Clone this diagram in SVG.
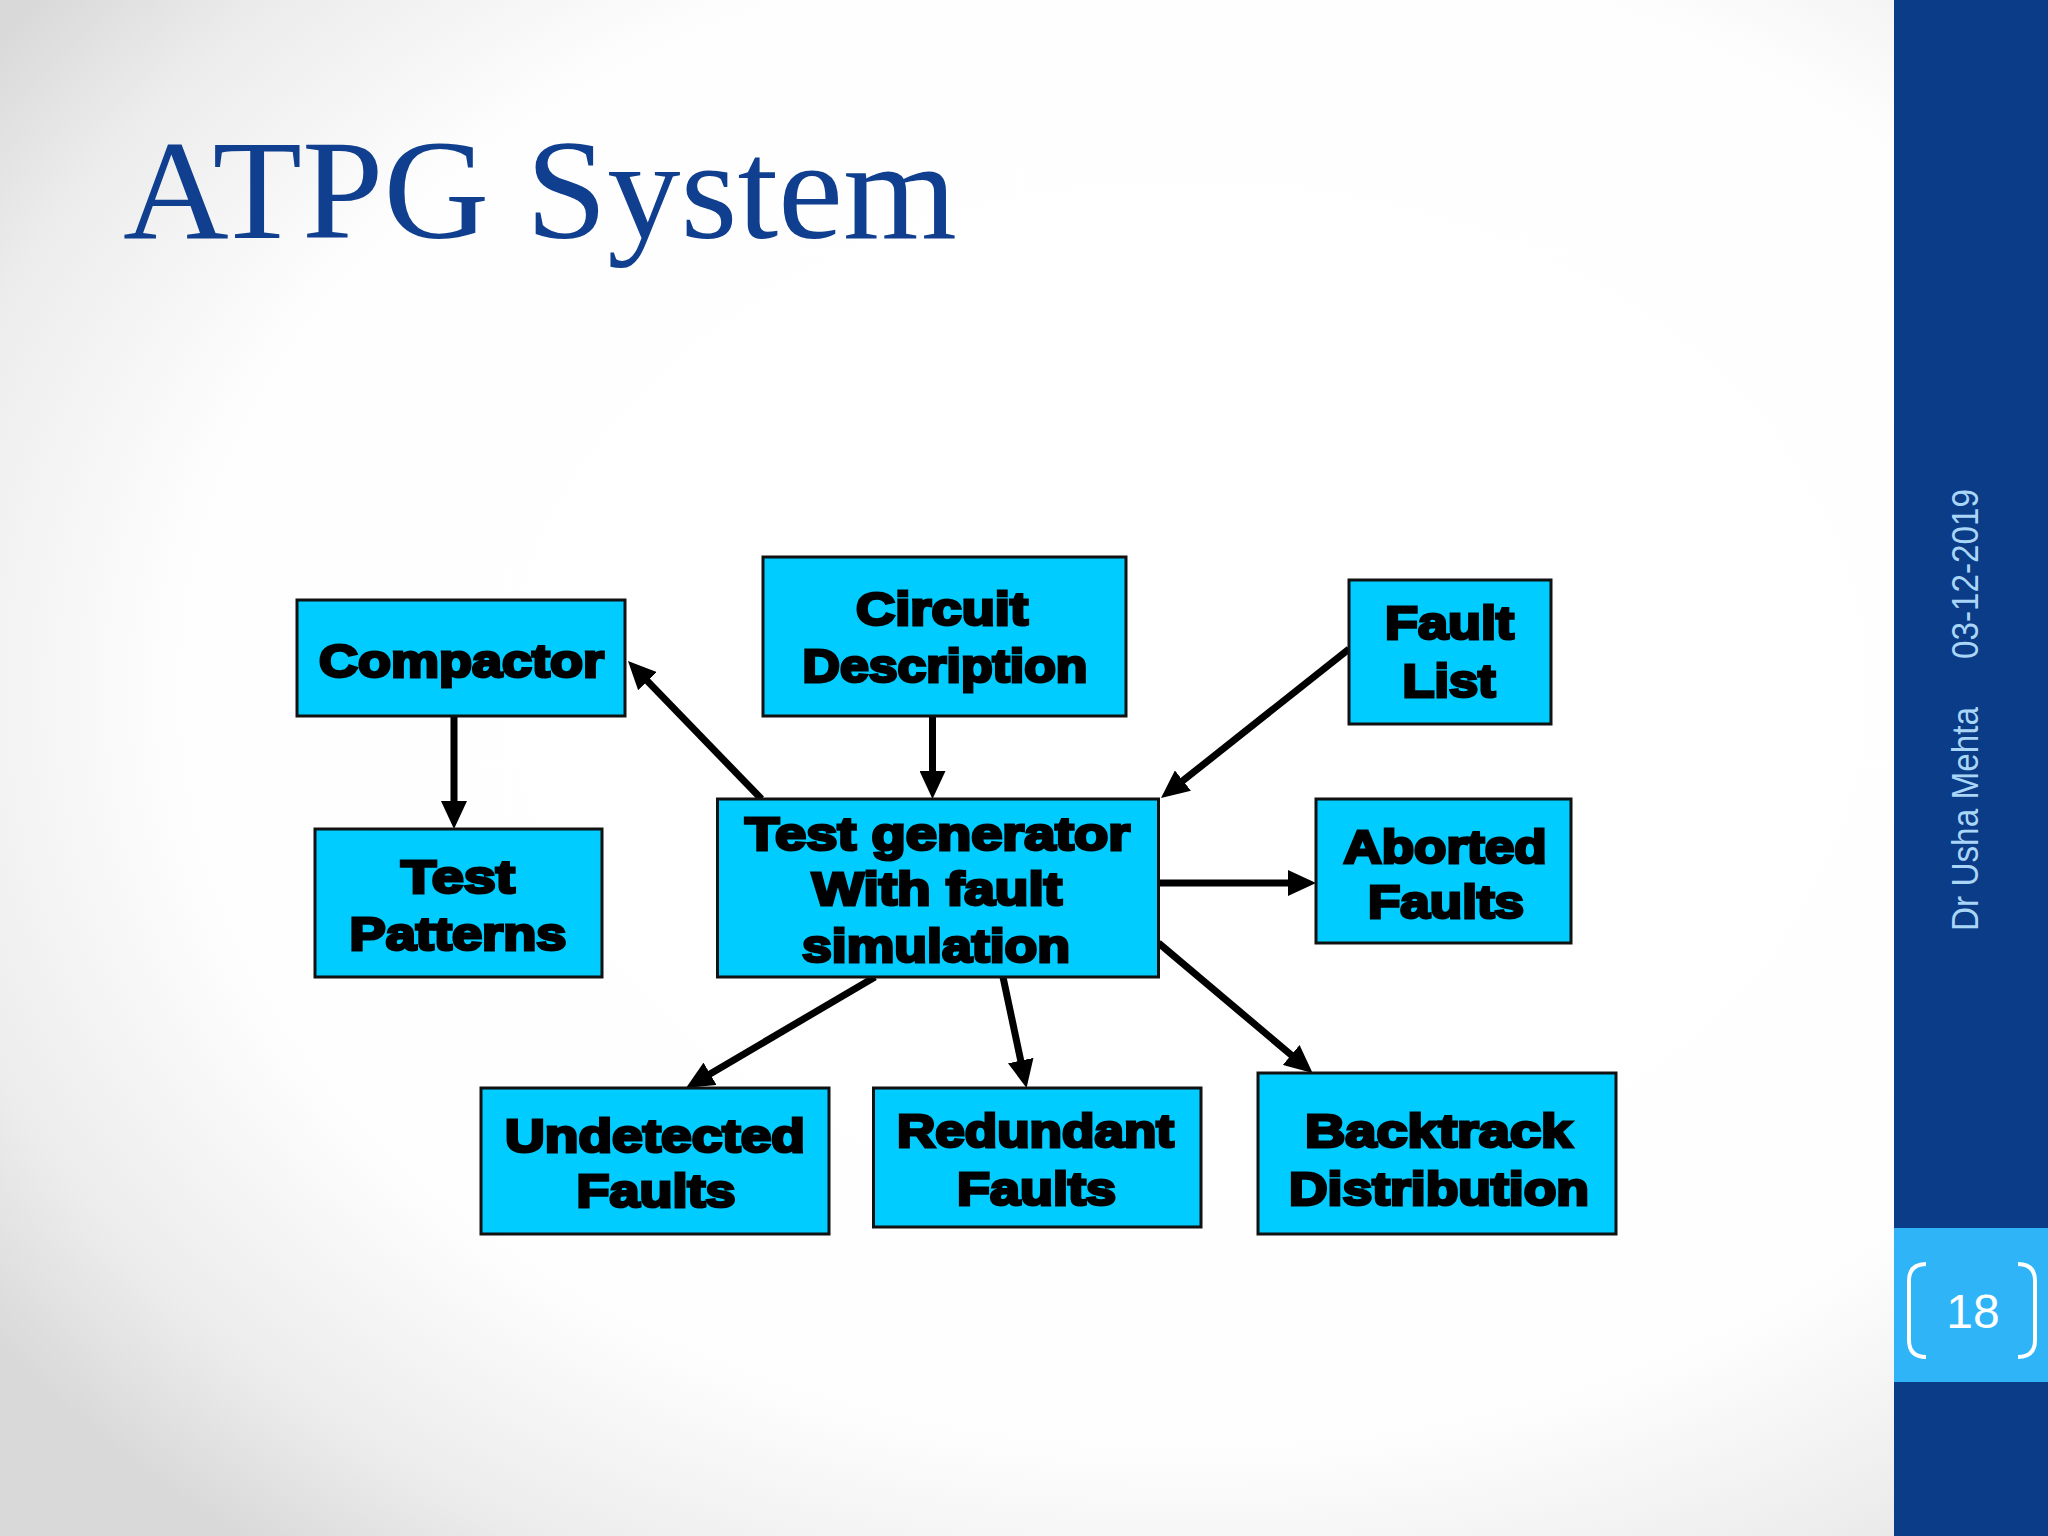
<svg xmlns="http://www.w3.org/2000/svg" width="2048" height="1536" viewBox="0 0 2048 1536">
  <defs>
    <radialGradient id="bg" cx="0.58" cy="0.45" r="0.72">
      <stop offset="0" stop-color="#ffffff"/>
      <stop offset="0.68" stop-color="#fefefe"/>
      <stop offset="0.88" stop-color="#ececec"/>
      <stop offset="1" stop-color="#d9d9d9"/>
    </radialGradient>
    <marker id="arr" markerUnits="userSpaceOnUse" markerWidth="28" markerHeight="26" refX="8" refY="13" orient="auto" viewBox="0 0 28 26">
      <path d="M0,0 L28,13 L0,26 Z" fill="#000"/>
    </marker>
    <style>
      .box { fill: #00CCFF; stroke: #111; stroke-width: 3; }
      .lbl { font-family: "Liberation Sans", Arial, sans-serif; font-weight: bold; font-size: 47px; fill: #000; stroke: #000; stroke-width: 3; text-anchor: middle; }
      .conn { stroke: #000; stroke-width: 7; fill: none; marker-end: url(#arr); }
      .side { font-family: "Liberation Sans Narrow", "Liberation Sans", Arial, sans-serif; font-size: 36px; fill: #A9D6F7; }
    </style>
  </defs>

  <rect x="0" y="0" width="2048" height="1536" fill="url(#bg)"/>

  <!-- sidebar -->
  <rect x="1894" y="0" width="154" height="1536" fill="#0B3C87"/>
  <rect x="1894" y="1228" width="154" height="154" fill="#2FB4F8"/>
  <path d="M1926,1264 Q1909,1264 1909,1281 L1909,1340 Q1909,1357 1926,1357" fill="none" stroke="#fff" stroke-width="4"/>
  <path d="M2018,1264 Q2035,1264 2035,1281 L2035,1340 Q2035,1357 2018,1357" fill="none" stroke="#fff" stroke-width="4"/>
  <text x="1973" y="1328" font-family="Liberation Sans, Arial, sans-serif" font-size="48" fill="#fff" text-anchor="middle">18</text>
  <text class="side" transform="translate(1978,931) rotate(-90)" x="0" y="0" textLength="224" lengthAdjust="spacingAndGlyphs">Dr Usha Mehta</text>
  <text class="side" transform="translate(1978,659) rotate(-90)" x="0" y="0" textLength="170" lengthAdjust="spacingAndGlyphs">03-12-2019</text>

  <!-- title -->
  <text x="123" y="238" font-family="Liberation Serif, 'Times New Roman', serif" font-size="142" fill="#0F3F8E" textLength="834" lengthAdjust="spacingAndGlyphs">ATPG System</text>

  <!-- connectors -->
  <g id="connectors">
    <line class="conn" x1="454" y1="716" x2="454" y2="809"/>
    <line class="conn" x1="932.5" y1="717" x2="932.5" y2="779"/>
    <line class="conn" x1="761.5" y1="799" x2="641.9" y2="675.4"/>
    <line class="conn" x1="1349" y1="649" x2="1176.7" y2="785.6"/>
    <line class="conn" x1="1158" y1="883" x2="1296" y2="883"/>
    <line class="conn" x1="875" y1="977" x2="703.2" y2="1077.9"/>
    <line class="conn" x1="1003" y1="977" x2="1022.4" y2="1068.4"/>
    <line class="conn" x1="1158.5" y1="943" x2="1297.3" y2="1060.1"/>
  </g>

  <!-- nodes -->
  <g id="compactor">
    <rect class="box" x="297" y="600" width="328" height="116"/>
    <text class="lbl" x="461.5" y="677" textLength="285" lengthAdjust="spacingAndGlyphs">Compactor</text>
  </g>
  <g id="circuit-description">
    <rect class="box" x="763" y="557" width="363" height="159"/>
    <text class="lbl" x="942" y="625" textLength="172" lengthAdjust="spacingAndGlyphs">Circuit</text>
    <text class="lbl" x="945" y="682" textLength="285" lengthAdjust="spacingAndGlyphs">Description</text>
  </g>
  <g id="fault-list">
    <rect class="box" x="1349" y="580" width="202" height="144"/>
    <text class="lbl" x="1449.5" y="639" textLength="129" lengthAdjust="spacingAndGlyphs">Fault</text>
    <text class="lbl" x="1449" y="697" textLength="93" lengthAdjust="spacingAndGlyphs">List</text>
  </g>
  <g id="test-patterns">
    <rect class="box" x="315" y="829" width="287" height="148"/>
    <text class="lbl" x="458" y="893" textLength="114" lengthAdjust="spacingAndGlyphs">Test</text>
    <text class="lbl" x="458" y="950" textLength="217" lengthAdjust="spacingAndGlyphs">Patterns</text>
  </g>
  <g id="test-generator">
    <rect class="box" x="717.5" y="799" width="441" height="178"/>
    <text class="lbl" x="937.5" y="850" textLength="385" lengthAdjust="spacingAndGlyphs">Test generator</text>
    <text class="lbl" x="937" y="905" textLength="250" lengthAdjust="spacingAndGlyphs">With fault</text>
    <text class="lbl" x="936" y="962" textLength="268" lengthAdjust="spacingAndGlyphs">simulation</text>
  </g>
  <g id="aborted-faults">
    <rect class="box" x="1316" y="799" width="255" height="144"/>
    <text class="lbl" x="1445" y="863" textLength="203" lengthAdjust="spacingAndGlyphs">Aborted</text>
    <text class="lbl" x="1446" y="918" textLength="156" lengthAdjust="spacingAndGlyphs">Faults</text>
  </g>
  <g id="undetected-faults">
    <rect class="box" x="481" y="1088" width="348" height="146"/>
    <text class="lbl" x="655" y="1152" textLength="300" lengthAdjust="spacingAndGlyphs">Undetected</text>
    <text class="lbl" x="656" y="1207" textLength="159" lengthAdjust="spacingAndGlyphs">Faults</text>
  </g>
  <g id="redundant-faults">
    <rect class="box" x="873.5" y="1088" width="327.5" height="139"/>
    <text class="lbl" x="1035.5" y="1147" textLength="277" lengthAdjust="spacingAndGlyphs">Redundant</text>
    <text class="lbl" x="1036.5" y="1205" textLength="159" lengthAdjust="spacingAndGlyphs">Faults</text>
  </g>
  <g id="backtrack-distribution">
    <rect class="box" x="1258" y="1073" width="358" height="161"/>
    <text class="lbl" x="1438.5" y="1147" textLength="267" lengthAdjust="spacingAndGlyphs">Backtrack</text>
    <text class="lbl" x="1439" y="1205" textLength="300" lengthAdjust="spacingAndGlyphs">Distribution</text>
  </g>
</svg>
